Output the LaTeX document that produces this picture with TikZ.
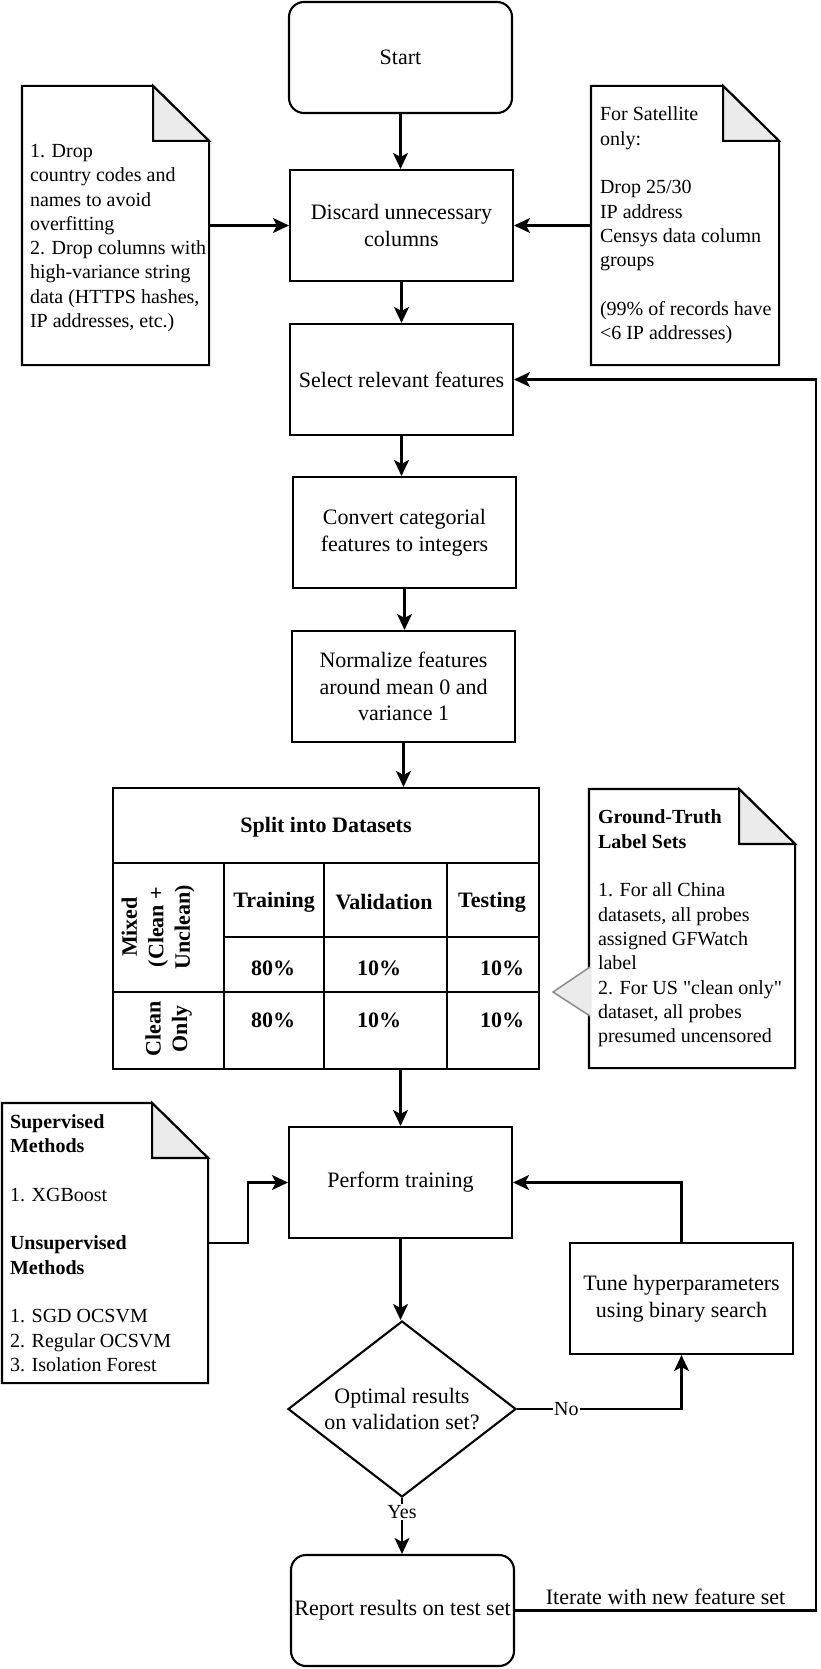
\documentclass[tikz,border=0pt]{standalone}
\usepackage{fontspec}
\setmainfont{Liberation Serif}[Ligatures=TeXOff]
\usepackage{tikz}
\usetikzlibrary{arrows.meta,shapes.geometric,positioning}
\definecolor{foldgray}{HTML}{EBEBEB}
\definecolor{tipgray}{HTML}{8C8C8C}
\newcommand{\boxfont}{\fontsize{22}{26.5}\selectfont}
\newcommand{\memofont}{\fontsize{20}{24.3}\selectfont}
\newcommand{\foldnote}[1]{%
\draw (#1.north west) -- ([xshift=-56pt]#1.north east) -- ([yshift=-55pt]#1.north east) -- (#1.south east) -- (#1.south west) -- cycle;
\filldraw[fill=foldgray] ([xshift=-56pt]#1.north east) -- ([xshift=-56pt,yshift=-55pt]#1.north east) -- ([yshift=-55pt]#1.north east) -- cycle;}

\begin{document}
\begin{tikzpicture}[x=1pt, y=-1pt, line width=2.1pt,
  arr/.style={-{Stealth[length=16pt,width=15pt,inset=4pt]}},
  procbox/.style={draw, minimum width=223pt, minimum height=111pt, align=center, inner sep=0pt, font=\boxfont},
  termbox/.style={procbox, rounded corners=15pt},
  decision/.style={draw, diamond, aspect=1.3, minimum width=228pt, minimum height=176pt, inner sep=0pt, align=center, font=\boxfont},
  memo/.style={minimum width=#1, minimum height=277pt, inner sep=0pt},
  memotext/.style={anchor=west, align=left, inner sep=0pt, font=\memofont},
  cell/.style={font=\boxfont\bfseries, inner sep=0pt, align=center},
  lbl/.style={fill=white, inner sep=1pt, font=\memofont}]
\useasboundingbox (0,0) rectangle (821,1669);

\node[termbox] (start) at (400.5,57.5) {Start};
\node[procbox] (discard) at (401.5,225.5) {Discard unnecessary\\columns};
\node[procbox] (select) at (401.5,379.5) {Select relevant features};
\node[procbox] (convert) at (404.5,532.5) {Convert categorial\\features to integers};
\node[procbox] (norm) at (403.5,686.5) {Normalize features\\around mean 0 and\\variance 1};
\node[draw, minimum width=426pt, minimum height=281pt, inner sep=0pt] (split) at (326,928.5) {};
\node[procbox] (train) at (400.5,1182.5) {Perform training};
\node[decision] (optimal) at (402,1409) {Optimal results\\on validation set?};
\node[procbox] (tune) at (681.5,1298.5) {Tune hyperparameters\\using binary search};
\node[termbox] (report) at (402.5,1610.5) {Report results on test set};

\node[memo=185pt] (dropnote) at (115.5,225.5) {};
\node[memo=186pt] (satnote) at (685,225.5) {};
\node[memo=204pt] (gtnote) at (692,928.5) {};
\node[memo=204pt, minimum height=278pt] (methnote) at (105,1243) {};
\foldnote{dropnote}
\foldnote{satnote}
\foldnote{gtnote}
\foldnote{methnote}
\coordinate (gttip) at (553,992);
\fill[foldgray] (gttip) -- (591.5,967) -- (591.5,1016) -- cycle;
\draw[tipgray, line width=1.5pt] (590,967) -- (gttip) -- (590,1016);

\node[memotext] (droptext) at ([xshift=7pt,yshift=-12.5pt]dropnote.west) {1. Drop\\country codes and\\names to avoid\\overfitting\\2. Drop columns with\\high-variance string\\data (HTTPS hashes,\\IP addresses, etc.)};
\node[memotext] (sattext) at ([xshift=8pt]satnote.west) {For Satellite\\only:\\\mbox{}\\Drop 25/30\\IP address\\Censys data column\\groups\\\mbox{}\\(99\% of records have\\<6 IP addresses)};
\node[memotext] (gttext) at ([xshift=8pt]gtnote.west) {\textbf{Ground-Truth}\\\textbf{Label Sets}\\\mbox{}\\1. For all China\\datasets, all probes\\assigned GFWatch\\label\\2. For US "clean only"\\dataset, all probes\\presumed uncensored};
\node[memotext] (methtext) at ([xshift=7pt]methnote.west) {\textbf{Supervised}\\\textbf{Methods}\\\mbox{}\\1. XGBoost\\\mbox{}\\\textbf{Unsupervised}\\\textbf{Methods}\\\mbox{}\\1. SGD OCSVM\\2. Regular OCSVM\\3. Isolation Forest};

\draw (113,863) -- (539,863);
\draw (224,937) -- (539,937);
\draw (113,992) -- (539,992);
\foreach \x in {224,324,447} \draw (\x,863) -- (\x,1069);
\node[cell] (splithead) at (326,827) {Split into Datasets};
\node[cell] (trainhead) at (274,902) {Training};
\node[cell] (valhead) at (384,902) {Validation};
\node[cell] (testhead) at (492,902) {Testing};
\foreach \y/\r in {968/mixed,1020/clean} {
  \node[cell] (train\r) at (273,\y) {80\%};
  \node[cell] (val\r) at (379,\y) {10\%};
  \node[cell] (test\r) at (502,\y) {10\%};
}
\node[cell, rotate=90] (mixedlabel) at (158,927) {Mixed\\(Clean +\\Unclean)};
\node[cell, rotate=90] (cleanlabel) at (168.5,1029) {Clean\\Only};

\coordinate (methbend) at (248,0);
\coordinate (loopx) at (816,0);
\draw[arr] (start.south) -- (start.south |- discard.north);
\draw[arr] (dropnote.east) -- (discard.west);
\draw[arr] (satnote.west) -- (discard.east);
\draw[arr] (discard.south) -- (discard.south |- select.north);
\draw[arr] (select.south) -- (select.south |- convert.north);
\draw[arr] (convert.south) -- (convert.south |- norm.north);
\draw[arr] (norm.south) -- (norm.south |- split.north);
\draw[arr] (train.north |- split.south) -- (train.north);
\draw[arr] (methnote.east) -- (methnote.east -| methbend) |- (train.west);
\draw[arr] (train.south) -- (train.south |- optimal.north);
\draw[arr] (optimal.east) -| node[lbl, pos=0.15] {No} (tune.south);
\draw[arr] (tune.north) |- (train.east);
\draw[arr] (optimal.south) -- node[lbl, pos=0.25] {Yes} (optimal.south |- report.north);
\draw[arr] (report.east) -- node[above, inner sep=5pt, font=\boxfont] {Iterate with new feature set} (report.east -| loopx) -- (select.east -| loopx) -- (select.east);
\end{tikzpicture}
\end{document}
